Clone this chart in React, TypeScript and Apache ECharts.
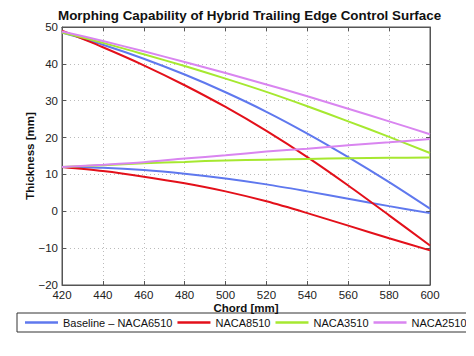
import React, { useEffect, useRef } from "react";
import * as echarts from "echarts";

const chord = [420, 440, 460, 480, 500, 520, 540, 560, 580, 600];
const baselineUpper = [48.5, 45.2, 41.4, 37.1, 32.3, 27.0, 21.1, 14.7, 7.9, 0.7];
const baselineLower = [12, 11.8, 11.2, 10.2, 8.9, 7.3, 5.4, 3.4, 1.4, -0.5];
const naca8510Upper = [49, 44.5, 39.6, 34.2, 28.3, 21.8, 14.7, 7.0, -1.1, -9.3];
const naca8510Lower = [12, 10.9, 9.4, 7.6, 5.4, 2.7, -0.5, -3.9, -7.3, -10.6];
const naca3510Upper = [48.5, 45.7, 42.6, 39.4, 36.0, 32.4, 28.5, 24.4, 20.2, 15.8];
const naca3510Lower = [12, 12.5, 13.0, 13.4, 13.8, 14.0, 14.2, 14.4, 14.5, 14.6];
const naca2510Upper = [48.8, 46.2, 43.4, 40.5, 37.5, 34.4, 31.2, 27.8, 24.4, 20.9];
const naca2510Lower = [12, 12.6, 13.3, 14.3, 15.2, 16.2, 17.0, 17.9, 18.7, 19.6];

const seriesNames = ["Baseline – NACA6510", "NACA8510", "NACA3510", "NACA2510"];
const seriesColors = ["#5f78ee", "#e3101a", "#a6e830", "#d985f0"];
const seriesCurves = [
  [baselineUpper, baselineLower],
  [naca8510Upper, naca8510Lower],
  [naca3510Upper, naca3510Lower],
  [naca2510Upper, naca2510Lower],
];

const FONT = "'Liberation Sans', Arial, Helvetica, sans-serif";

export default function App() {
  const ref = useRef<HTMLDivElement>(null);
  useEffect(() => {
    if (!ref.current) return;
    const chart = echarts.init(ref.current, null, { renderer: "svg" });
    const series: any[] = [];
    seriesCurves.forEach((curves, i) => {
      curves.forEach((vals) => {
        series.push({
          name: seriesNames[i],
          type: "line",
          data: chord.map((c, k) => [c, vals[k]]),
          symbol: "none",
          smooth: 0.3,
          color: seriesColors[i],
          lineStyle: { width: 2, color: seriesColors[i] },
          xAxisIndex: 0,
          yAxisIndex: 0,
        });
      });
    });
    const minus = (v: number) => String(v).replace("-", "\u2212");
    chart.setOption({
      animation: false,
      textStyle: { fontFamily: FONT },
      title: {
        text: "Morphing Capability of Hybrid Trailing Edge Control Surface",
        left: 53,
        top: 4,
        textStyle: { fontSize: 13.4, fontWeight: "bold", color: "#111", fontFamily: FONT },
      },
      grid: {
        left: 62,
        right: 44,
        top: 27,
        bottom: 71,
        show: true,
        borderColor: "#555",
        borderWidth: 1,
        backgroundColor: "#fff",
      },
      legend: {
        data: seriesNames,
        left: 25,
        top: 317,
        icon: "rect",
        itemWidth: 33,
        itemHeight: 2.5,
        itemGap: 5,
        padding: 0,
        textStyle: { fontSize: 11, color: "#111", fontFamily: FONT },
      },
      graphic: [
        {
          type: "rect",
          shape: { x: 17, y: 313, width: 470, height: 19 },
          style: { fill: "none", stroke: "#333", lineWidth: 1 },
          silent: true,
        },
      ],
      xAxis: [
        {
          type: "value",
          min: 420,
          max: 600,
          interval: 20,
          name: "Chord [mm]",
          nameLocation: "middle",
          nameGap: 17,
          nameMoveOverlap: false,
          nameTextStyle: { fontSize: 11.5, fontWeight: "bold", color: "#111", fontFamily: FONT },
          axisLine: { show: true, onZero: false, lineStyle: { color: "#555" } },
          axisTick: { show: true, inside: true, length: 4, lineStyle: { color: "#555" } },
          axisLabel: { fontSize: 11.5, color: "#222", margin: 4, formatter: minus },
          splitLine: { show: true, lineStyle: { color: "#bbb", type: [1, 3] } },
        },
        {
          type: "value",
          position: "top",
          min: 420,
          max: 600,
          interval: 20,
          axisLine: { show: true, onZero: false, lineStyle: { color: "#555" } },
          axisTick: { show: true, inside: true, length: 4, lineStyle: { color: "#555" } },
          axisLabel: { show: false },
          splitLine: { show: false },
        },
      ],
      yAxis: [
        {
          type: "value",
          min: -20,
          max: 50,
          interval: 10,
          name: "Thickness [mm]",
          nameLocation: "middle",
          nameGap: 26,
          nameMoveOverlap: false,
          nameTextStyle: { fontSize: 11.5, fontWeight: "bold", color: "#111", fontFamily: FONT },
          axisLine: { show: true, onZero: false, lineStyle: { color: "#555" } },
          axisTick: { show: true, inside: true, length: 4, lineStyle: { color: "#555" } },
          axisLabel: { fontSize: 11.5, color: "#222", margin: 4, formatter: minus },
          splitLine: { show: true, lineStyle: { color: "#bbb", type: [1, 3] } },
        },
        {
          type: "value",
          position: "right",
          min: -20,
          max: 50,
          interval: 10,
          axisLine: { show: true, onZero: false, lineStyle: { color: "#555" } },
          axisTick: { show: true, inside: true, length: 4, lineStyle: { color: "#555" } },
          axisLabel: { show: false },
          splitLine: { show: false },
        },
      ],
      series,
    });
    return () => chart.dispose();
  }, []);
  return <div ref={ref} style={{ width: 474, height: 356, margin: -8 }} />;
}
